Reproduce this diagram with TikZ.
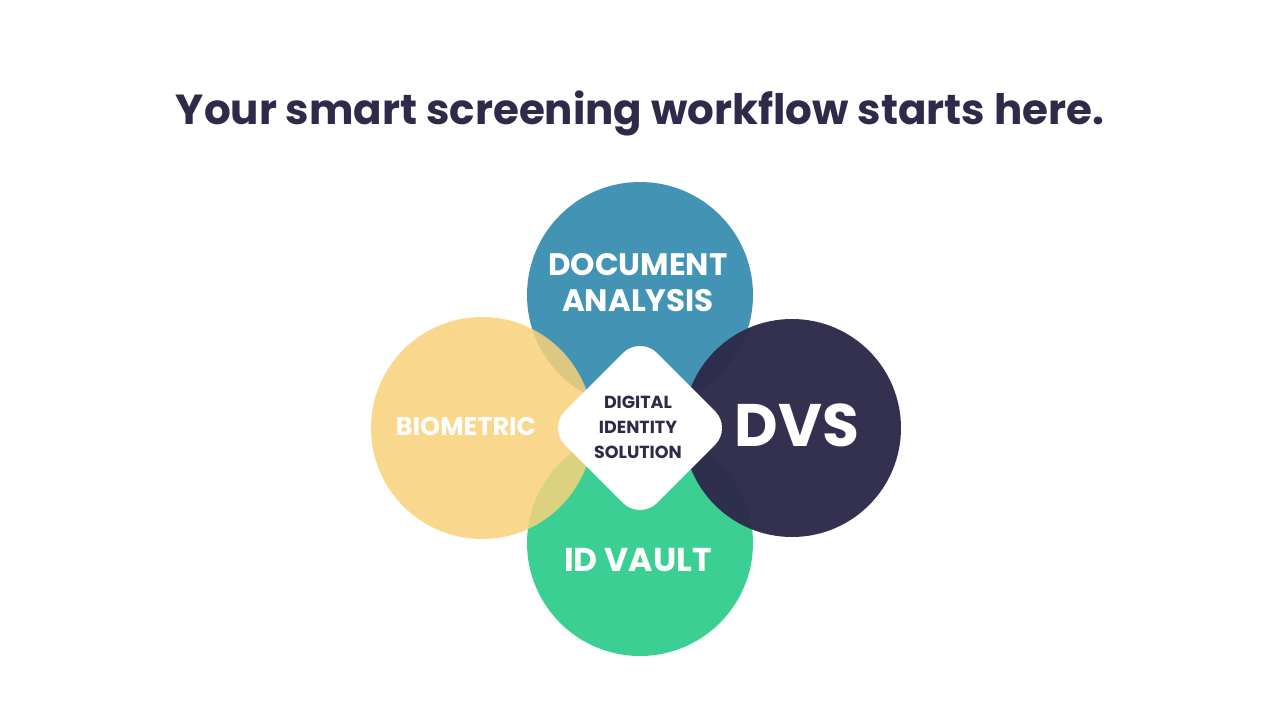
\documentclass[tikz,border=0pt]{standalone}
\usepackage{fontspec}
\setmainfont{Poppins}
\usetikzlibrary{shapes.geometric}
\definecolor{navy}{HTML}{2E2A4A}
\definecolor{cblue}{HTML}{4393B4}
\definecolor{cyel}{HTML}{F9D27B}
\definecolor{cgreen}{HTML}{3CCF94}
\tikzset{lbl/.style={text=white,font=\bfseries,align=center}}
\begin{document}
\begin{tikzpicture}[x=1pt,y=-1pt]
\useasboundingbox[fill=white] (0,0) rectangle (1280,720);
\node (title) at (640,113) {\fontsize{42}{50}\selectfont\bfseries\color{navy}Your smart screening workflow starts here.};
\fill[cblue] (640,295) circle (113);
\fill[cgreen] (640,543) circle (113);
\fill[cyel,opacity=0.85] (482,428) circle (111);
\fill[navy,opacity=0.97] (792,428) circle (109);
\node[fill=white,rounded corners=24pt,minimum size=130pt,rotate=45] (d) at (640,428) {};
\node[lbl,font=\bfseries\fontsize{31}{36}\selectfont] (doc) at (638,283) {DOCUMENT\\ANALYSIS};
\node[lbl,font=\bfseries\fontsize{25.5}{30}\selectfont] (bio) at (466,427) {BIOMETRIC};
\node[lbl,font=\bfseries\fontsize{60}{66}\selectfont] (dvs) at (797,425) {DVS};
\node[lbl,font=\bfseries\fontsize{33}{38}\selectfont] (idv) at (638,560) {ID VAULT};
\node[align=center,text=navy,font=\bfseries\fontsize{17.5}{25}\selectfont] (dis) at (638,427) {DIGITAL\\IDENTITY\\SOLUTION};
\end{tikzpicture}
\end{document}
